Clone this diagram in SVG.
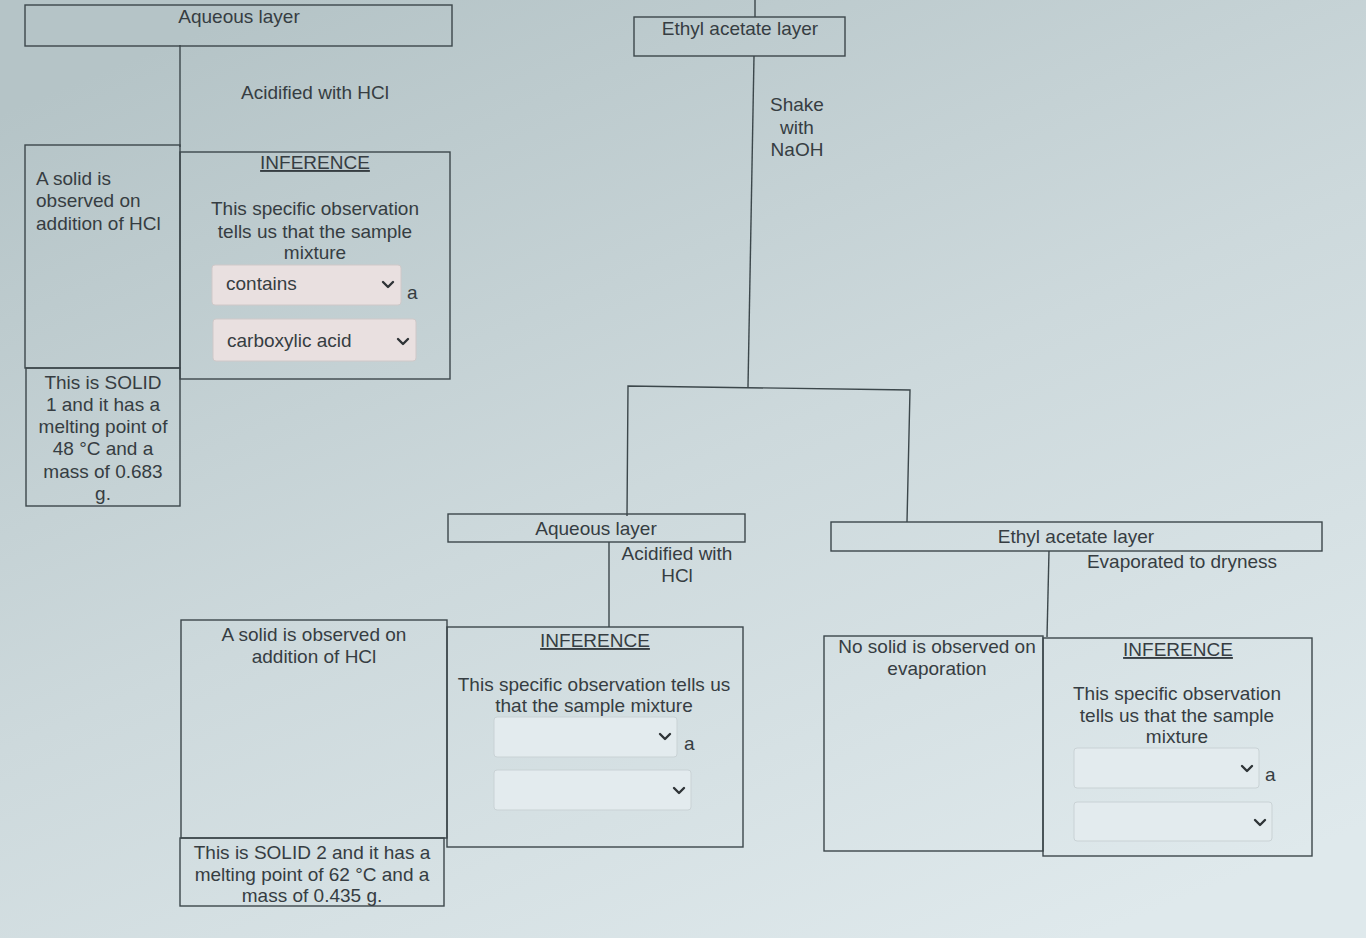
<svg xmlns="http://www.w3.org/2000/svg" width="1366" height="938" viewBox="0 0 1366 938">
<style>
  .bx { fill: none; stroke: #3c474b; stroke-width: 1.4; }
  .ln { fill: none; stroke: #3c474b; stroke-width: 1.4; }
  text { font-family: "Liberation Sans", Arial, sans-serif; font-size: 19px; fill: #363d42; }
  .c { text-anchor: middle; }
  .u { text-decoration: underline; }
  .sel { fill: #e9e0e0; stroke: #cfc8c8; stroke-width: 1; }
  .sel0 { fill: #e3ebee; stroke: #c9d2d5; stroke-width: 1; }
  .chev { fill: none; stroke: #2f3437; stroke-width: 2.4; stroke-linecap: round; stroke-linejoin: round; }
</style>
<defs>
  <linearGradient id="bg" x1="0.2" y1="0" x2="0.8" y2="1">
    <stop offset="0" stop-color="#b5c4c7"/>
    <stop offset="0.5" stop-color="#cdd9dc"/>
    <stop offset="1" stop-color="#dfe9ec"/>
  </linearGradient>
</defs>
<rect x="0" y="0" width="1366" height="938" fill="url(#bg)"/>

<g id="connectors">
  <line class="ln" x1="180" y1="45" x2="180" y2="147"/>
  <line class="ln" x1="755" y1="0" x2="755" y2="17"/>
  <line class="ln" x1="754" y1="56" x2="748" y2="387"/>
  <polyline class="ln" points="627,516 628,386 910,390 907,522"/>
  <line class="ln" x1="609" y1="542" x2="609" y2="627"/>
  <line class="ln" x1="1049" y1="551" x2="1047" y2="637"/>
</g>

<g id="aqueous1">
  <rect class="bx" x="25" y="5" width="427" height="41"/>
  <text class="c" x="239" y="23">Aqueous layer</text>
</g>
<g id="label-acid1">
  <text class="c" x="315" y="99">Acidified with HCl</text>
</g>
<g id="obs1">
  <rect class="bx" x="25" y="145" width="155" height="223"/>
  <text x="36" y="185">A solid is</text>
  <text x="36" y="207">observed on</text>
  <text x="36" y="230">addition of HCl</text>
</g>
<g id="inf1">
  <rect class="bx" x="180" y="152" width="270" height="227"/>
  <text class="c u" x="315" y="169">INFERENCE</text>
  <text class="c" x="315" y="215">This specific observation</text>
  <text class="c" x="315" y="238">tells us that the sample</text>
  <text class="c" x="315" y="259">mixture</text>
  <rect class="sel" x="212" y="265" width="189" height="40" rx="3"/>
  <text x="226" y="290">contains</text>
  <polyline class="chev" points="383,282 388,287 393,282"/>
  <text x="407" y="299">a</text>
  <rect class="sel" x="213" y="319" width="203" height="42" rx="3"/>
  <text x="227" y="347">carboxylic acid</text>
  <polyline class="chev" points="398,339 403,344 408,339"/>
</g>
<g id="solid1">
  <rect class="bx" x="26" y="368" width="154" height="138"/>
  <text class="c" x="103" y="389">This is SOLID</text>
  <text class="c" x="103" y="411">1 and it has a</text>
  <text class="c" x="103" y="433">melting point of</text>
  <text class="c" x="103" y="455">48 °C and a</text>
  <text class="c" x="103" y="478">mass of 0.683</text>
  <text class="c" x="103" y="500">g.</text>
</g>

<g id="ethyl1">
  <rect class="bx" x="634" y="17" width="211" height="39"/>
  <text class="c" x="740" y="35">Ethyl acetate layer</text>
</g>
<g id="label-naoh">
  <text class="c" x="797" y="111">Shake</text>
  <text class="c" x="797" y="134">with</text>
  <text class="c" x="797" y="156">NaOH</text>
</g>

<g id="aqueous2">
  <rect class="bx" x="448" y="514" width="297" height="28"/>
  <text class="c" x="596" y="535">Aqueous layer</text>
</g>
<g id="label-acid2">
  <text class="c" x="677" y="560">Acidified with</text>
  <text class="c" x="677" y="582">HCl</text>
</g>
<g id="obs2">
  <rect class="bx" x="181" y="620" width="266" height="218"/>
  <text class="c" x="314" y="641">A solid is observed on</text>
  <text class="c" x="314" y="663">addition of HCl</text>
</g>
<g id="inf2">
  <rect class="bx" x="447" y="627" width="296" height="220"/>
  <text class="c u" x="595" y="647">INFERENCE</text>
  <text class="c" x="594" y="691">This specific observation tells us</text>
  <text class="c" x="594" y="712">that the sample mixture</text>
  <rect class="sel0" x="494" y="717" width="183" height="40" rx="3"/>
  <polyline class="chev" points="660,734 665,739 670,734"/>
  <text x="684" y="750">a</text>
  <rect class="sel0" x="494" y="770" width="197" height="40" rx="3"/>
  <polyline class="chev" points="674,788 679,793 684,788"/>
</g>
<g id="solid2">
  <rect class="bx" x="180" y="838" width="264" height="68"/>
  <text class="c" x="312" y="859">This is SOLID 2 and it has a</text>
  <text class="c" x="312" y="881">melting point of 62 °C and a</text>
  <text class="c" x="312" y="902">mass of 0.435 g.</text>
</g>

<g id="ethyl2">
  <rect class="bx" x="831" y="522" width="491" height="29"/>
  <text class="c" x="1076" y="543">Ethyl acetate layer</text>
</g>
<g id="label-evap">
  <text class="c" x="1182" y="568">Evaporated to dryness</text>
</g>
<g id="obs3">
  <rect class="bx" x="824" y="636" width="219" height="215"/>
  <text class="c" x="937" y="653">No solid is observed on</text>
  <text class="c" x="937" y="675">evaporation</text>
</g>
<g id="inf3">
  <rect class="bx" x="1043" y="638" width="269" height="218"/>
  <text class="c u" x="1178" y="656">INFERENCE</text>
  <text class="c" x="1177" y="700">This specific observation</text>
  <text class="c" x="1177" y="722">tells us that the sample</text>
  <text class="c" x="1177" y="743">mixture</text>
  <rect class="sel0" x="1074" y="748" width="185" height="40" rx="3"/>
  <polyline class="chev" points="1242,766 1247,771 1252,766"/>
  <text x="1265" y="781">a</text>
  <rect class="sel0" x="1074" y="802" width="198" height="39" rx="3"/>
  <polyline class="chev" points="1255,820 1260,825 1265,820"/>
</g>
</svg>
